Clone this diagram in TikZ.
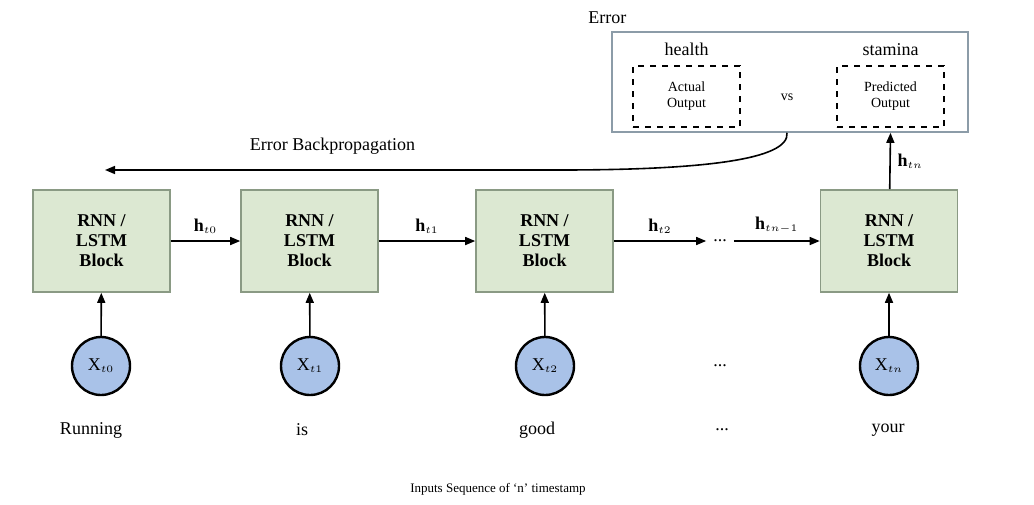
\documentclass[tikz,border=0pt]{standalone}
\usepackage{fontspec}
\setmainfont{Liberation Serif}
\usetikzlibrary{positioning,arrows.meta}
\definecolor{blockFill}{HTML}{DCE8D2}
\definecolor{blockLine}{HTML}{8A9A84}
\definecolor{inFill}{HTML}{A9C2E8}
\definecolor{boxLine}{HTML}{8C9CA8}
\newcommand{\hsub}[1]{$\mathbf{h}_{\scriptscriptstyle #1}$}
\newcommand{\xsub}[1]{X$_{\scriptscriptstyle #1}$}
\begin{document}
\begin{tikzpicture}[x=0.5pt,y=-0.5pt,font=\fontsize{9}{10}\selectfont,%%
  arrowStyle/.style={-{Triangle[length=5pt,width=4pt]},thick},%%
  blockStyle/.style={draw=blockLine,fill=blockFill,thick,minimum width=68.5pt,minimum height=51pt,align=center,font=\fontsize{9}{10}\selectfont\bfseries},%%
  inputStyle/.style={draw,circle,fill=inFill,very thick,minimum size=29pt,inner sep=0pt},%%
  dashStyle/.style={draw,dashed,thick,minimum width=53.5pt,minimum height=30.5pt,align=center,font=\fontsize{7}{8}\selectfont}
]
\useasboundingbox (0,0) rectangle (1034,504);
%%
%% The blocks and the inputs.
\node[blockStyle] (b0) at (101.5,241) {RNN /\\LSTM\\Block};
\node[blockStyle] (b1) at (309.5,241) {RNN /\\LSTM\\Block};
\node[blockStyle] (b2) at (544.5,241) {RNN /\\LSTM\\Block};
\node[blockStyle] (bn) at (889,241) {RNN /\\LSTM\\Block};
\node[inputStyle] (x0) at (101,366) {\xsub{t0}};
\node[inputStyle] (x1) at (310,366) {\xsub{t1}};
\node[inputStyle] (x2) at (545,366) {\xsub{t2}};
\node[inputStyle] (xn) at (889,366) {\xsub{tn}};
\node (dotsx) at (720,366) {...};
\node (dotsb) at (720,241) {...};
%%
%% The words.
\node (w0) at (91,430) {Running};
\node (w1) at (302,430) {is};
\node (w2) at (537,430) {good};
\node (w3) at (722,430) {...};
\node (wn) at (888,430) {your};
\node[font=\fontsize{6.5}{7}\selectfont] (seq) at (498,489) {Inputs Sequence of ‘n’ timestamp};
%%
%% The error box.
\node[draw=boxLine,thick,minimum width=178pt,minimum height=50pt] (err) at (790,82) {};
\node[above right=0pt and 0pt of err.north west,xshift=-15pt] (errT) {Error};
\node[dashStyle] (act) at (686.5,96.5) {Actual\\Output};
\node[dashStyle] (pred) at (890.5,96.5) {Predicted\\Output};
\node[above=1pt of act] (hl) {health};
\node[above=1pt of pred] (st) {stamina};
\node[font=\fontsize{7}{8}\selectfont] (vs) at (787,97) {vs};
%%
%% The connectors.
\foreach \i/\j in {x0/b0,x1/b1,x2/b2,xn/bn}
  \draw[arrowStyle] (\i) -- (\j);
\draw[arrowStyle] (b0) -- node[above] {\hsub{t0}} (b1);
\draw[arrowStyle] (b1) -- node[above] {\hsub{t1}} (b2);
\draw[arrowStyle] (b2.east) -- node[above] {\hsub{t2}} (dotsb.west);
\draw[arrowStyle] (dotsb.east) -- node[above] {\hsub{tn-1}} (bn.west);
\draw[arrowStyle] (bn) -- node[right] {\hsub{tn}} (pred.south |- err.south);
\coordinate (bpEnd) at (105,170);
\draw[arrowStyle] (err.south -| vs) .. controls (790,160) and (700,170) .. (560,170) -- node[above=4pt] {Error Backpropagation} (bpEnd);
\end{tikzpicture}
\end{document}
